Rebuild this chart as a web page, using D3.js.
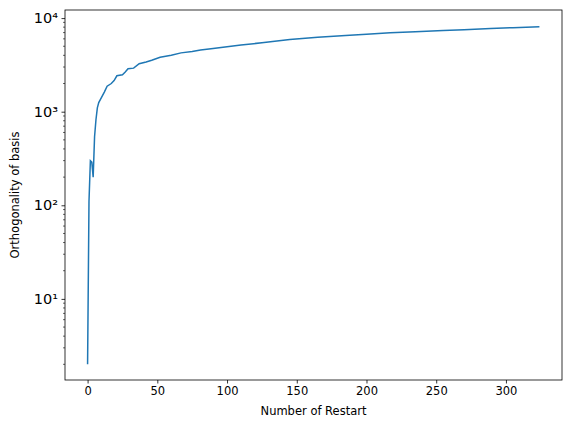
<!DOCTYPE html>
<html>
<head>
<meta charset="utf-8">
<script src="https://cdn.jsdelivr.net/npm/d3@7"></script>
<style>
  body { margin: 0; background: #fff; }
  text { font-family: "DejaVu Sans", sans-serif; }
</style>
</head>
<body>
<div id="chart"></div>
<script>
// restart index and orthogonality values
const restarts = [0, 1, 2, 3, 4, 5, 6, 7, 8, 10, 12, 14, 17, 19, 21, 25, 27, 29, 33, 37, 42, 46, 52, 60, 67, 75, 81, 90, 100, 110, 125, 145, 165, 185, 200, 217, 235, 255, 270, 289, 305, 324];
const orthogonality = [2, 110, 300, 290, 200, 540, 820, 1100, 1250, 1420, 1620, 1870, 2000, 2150, 2420, 2480, 2650, 2870, 2920, 3250, 3400, 3550, 3820, 4000, 4250, 4400, 4550, 4720, 4950, 5150, 5450, 5900, 6250, 6500, 6700, 6960, 7150, 7350, 7500, 7760, 7900, 8070];
const xTicks = [0, 50, 100, 150, 200, 250, 300];
const yMajor = [10, 100, 1000, 10000];
const supers = {"1": "¹", "2": "²", "3": "³", "4": "⁴"};

const W = 570, H = 433;
const margin = {top: 10, right: 8, bottom: 53, left: 65};
const width = W - margin.left - margin.right;
const height = H - margin.top - margin.bottom;

const svg = d3.select("#chart").append("svg")
  .attr("width", W).attr("height", H);
const g = svg.append("g").attr("transform", `translate(${margin.left},${margin.top})`);

const x = d3.scaleLinear().domain([-16.2, 340.2]).range([0, width]);
const y = d3.scaleLog().domain([1.36, 12200]).range([height, 0]);

// minor log ticks
const minor = [];
for (let e = 0; e < 5; e++) for (let m = 2; m <= 9; m++) {
  const v = m * Math.pow(10, e);
  if (v >= 1.36 && v <= 12200) minor.push(v);
}
g.selectAll(".minor").data(minor).enter().append("line")
  .attr("x1", 0).attr("x2", -2).attr("y1", d => y(d)).attr("y2", d => y(d))
  .attr("stroke", "#000").attr("stroke-width", 0.6);

const yAxis = g.append("g").call(d3.axisLeft(y).tickValues(yMajor).tickSize(3.5).tickPadding(3.5)
  .tickFormat(d => "10" + supers[String(Math.round(Math.log10(d)))]));
yAxis.selectAll("text").attr("font-size", 14.5).attr("fill", "#000");

const xAxis = g.append("g").attr("transform", `translate(0,${height})`)
  .call(d3.axisBottom(x).tickValues(xTicks).tickSize(3.5).tickPadding(3.5));
xAxis.selectAll("text").attr("font-size", 11.5).attr("fill", "#000");
svg.selectAll(".domain").remove();
svg.selectAll(".tick line").attr("stroke", "#000").attr("stroke-width", 0.8);

g.append("rect").attr("width", width).attr("height", height)
  .attr("fill", "none").attr("stroke", "#000").attr("stroke-width", 0.8);

const line = d3.line().x((d, i) => x(restarts[i])).y(d => y(d));
g.append("path").datum(orthogonality).attr("d", line)
  .attr("fill", "none").attr("stroke", "#1f77b4").attr("stroke-width", 1.5);

svg.append("text").attr("x", margin.left + width / 2).attr("y", 415)
  .attr("text-anchor", "middle").attr("font-size", 11.5).text("Number of Restart");
svg.append("text").attr("transform", `translate(19,${margin.top + height / 2}) rotate(-90)`)
  .attr("text-anchor", "middle").attr("font-size", 11.5).text("Orthogonality of basis");
</script>
</body>
</html>
